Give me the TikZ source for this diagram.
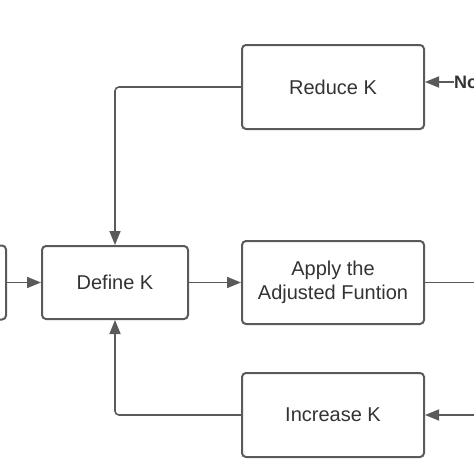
\documentclass[tikz,border=0pt]{standalone}
\usepackage{fontspec}
\setmainfont{Liberation Sans}
\usetikzlibrary{arrows.meta}
\definecolor{linegray}{HTML}{5A5A5A}
\definecolor{textgray}{HTML}{333333}
\begin{document}
\begin{tikzpicture}[x=1pt,y=-1pt,
  box/.style={draw=linegray,line width=2pt,rounded corners=4pt,fill=white,
    text=textgray,align=center,inner sep=0pt,
    font=\fontsize{20}{24}\selectfont},
  conn/.style={draw=linegray,line width=1.6pt,rounded corners=4pt},
  arr/.style={conn,-{Triangle[length=14pt,width=11pt]}}]
\useasboundingbox (0,0) rectangle (474,474);
\clip (0,0) rectangle (474,474);
\fill[white] (0,0) rectangle (474,474);
\node[box,minimum width=50pt,minimum height=74pt] (prev) at (-19,282.5) {};
\node[box,minimum width=146pt,minimum height=73pt] (define) at (115,282.5) {Define K};
\node[box,minimum width=182pt,minimum height=83pt] (apply) at (333,282.5) {Apply the\\Adjusted Funtion};
\node[box,minimum width=182pt,minimum height=84pt] (reduce) at (333,87) {Reduce K};
\node[box,minimum width=182pt,minimum height=84pt] (increase) at (333,415) {Increase K};
\node[anchor=west,inner sep=0pt,text=textgray,font=\fontsize{18}{20}\selectfont\bfseries] (no) at (454,82) {No};
\coordinate (appout) at (480,282.5);
\coordinate (incin) at (480,415);
\draw[arr] (prev.east |- define.west) -- (define.west);
\draw[arr] (define.east) -- (apply.west |- define.east);
\draw[conn] (apply.east) -- (appout);
\draw[arr] (reduce.west) -| (define.north);
\draw[arr] (increase.west) -| (define.south);
\draw[arr] (no.west) -- (reduce.east |- no.west);
\draw[arr] (incin) -- (increase.east);
\end{tikzpicture}
\end{document}
